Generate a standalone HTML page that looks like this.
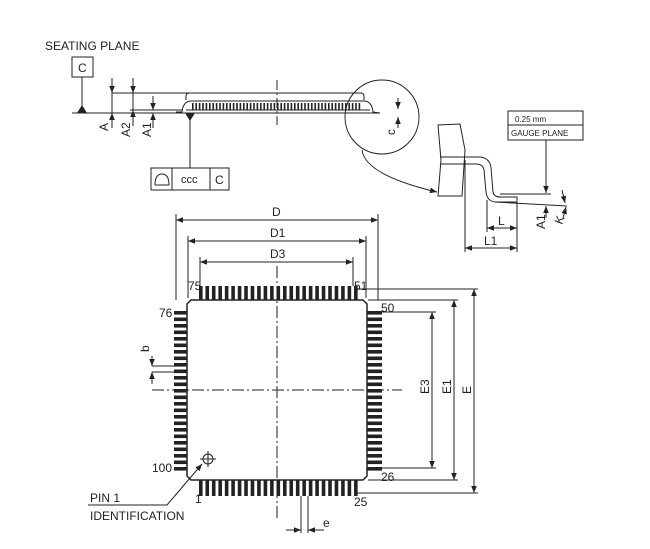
<!DOCTYPE html>
<html><head><meta charset="utf-8"><style>
html,body{margin:0;padding:0;background:#fff}
svg{display:block}
text{font-family:"Liberation Sans",sans-serif;fill:#222}
</style></head><body>
<svg id="s" width="650" height="549" viewBox="0 0 650 549" xmlns="http://www.w3.org/2000/svg">
<defs>
<marker id="a" viewBox="0 0 10 10" refX="10" refY="5" markerWidth="7" markerHeight="7" orient="auto-start-reverse"><path d="M0,1 L10,5 L0,9 z" fill="#222"/></marker>
</defs>
<g stroke="#222" stroke-width="1" fill="none">
<rect x="72" y="57" width="21" height="20"/>
<line x1="82" y1="77" x2="82" y2="107"/>
<line x1="72" y1="113" x2="380" y2="113"/>
<line x1="112" y1="93" x2="362" y2="93"/>
<line x1="130" y1="110" x2="182" y2="110"/>
<line x1="112" y1="78" x2="112" y2="93" marker-end="url(#a)"/>
<line x1="112" y1="128" x2="112" y2="113" marker-end="url(#a)"/>
<line x1="112" y1="93" x2="112" y2="113"/>
<line x1="133" y1="78" x2="133" y2="93" marker-end="url(#a)"/>
<line x1="133" y1="126" x2="133" y2="110" marker-end="url(#a)"/>
<line x1="133" y1="93" x2="133" y2="110"/>
<line x1="153" y1="96" x2="153" y2="110" marker-end="url(#a)"/>
<line x1="153" y1="128" x2="153" y2="113" marker-end="url(#a)"/>
<path d="M186,100 L186,96 Q186,93 190,93 L360,93 Q364,93 364,96 L364,100"/>
<path d="M176,112 L182,112 Q183,102 190,101 L365,101 Q372,102 373,112 L380,113"/>
<line x1="186" y1="110" x2="370" y2="110"/>
<line x1="277" y1="80" x2="277" y2="125" stroke-dasharray="10,3,2,3"/>
<line x1="190" y1="118" x2="190" y2="168"/>
<rect x="151" y="168" width="78" height="22"/>
<line x1="172" y1="168" x2="172" y2="190"/><line x1="210" y1="168" x2="210" y2="190"/>
<path d="M155,185 L169,185 M155,185 Q155,174 162,174 Q169,174 169,185"/>
<circle cx="382" cy="117" r="37"/>
<line x1="398" y1="98" x2="398" y2="109" marker-end="url(#a)"/>
<line x1="398" y1="128" x2="398" y2="117" marker-end="url(#a)"/>
<path d="M362,150 Q365,175 437,192" marker-end="url(#a)"/>
<path d="M438,125 L460,124 L465,150 L462,196 L438,196 L441,160 z"/>
<path d="M440,157 L480,157 Q490,158 491,168 L493,192 Q494,197 500,197 L517,197 L517,202 L495,202 Q487,201 486,192 L484,170 Q483,164 476,164 L440,164"/>
<line x1="465" y1="160" x2="465" y2="252"/>
<line x1="487" y1="200" x2="487" y2="232"/>
<line x1="517" y1="198" x2="517" y2="252"/>
<line x1="487" y1="228" x2="517" y2="228" marker-start="url(#a)" marker-end="url(#a)"/>
<line x1="465" y1="248" x2="517" y2="248" marker-start="url(#a)" marker-end="url(#a)"/>
<rect x="508" y="111" width="75" height="29"/><line x1="508" y1="125" x2="583" y2="125"/>
<line x1="546" y1="140" x2="546" y2="193" marker-end="url(#a)"/>
<line x1="500" y1="194" x2="551" y2="194"/>
<path d="M495,202 Q530,204 567,206"/>
<line x1="546" y1="218" x2="546" y2="206" marker-end="url(#a)"/>
<line x1="562" y1="190" x2="565" y2="203" marker-end="url(#a)"/>
<line x1="563" y1="218" x2="566" y2="207" marker-end="url(#a)"/>
<line x1="176" y1="214" x2="176" y2="300"/><line x1="378" y1="214" x2="378" y2="300"/>
<line x1="176" y1="220" x2="378" y2="220" marker-start="url(#a)" marker-end="url(#a)"/>
<line x1="188" y1="236" x2="188" y2="298"/><line x1="366" y1="236" x2="366" y2="298"/>
<line x1="188" y1="241" x2="366" y2="241" marker-start="url(#a)" marker-end="url(#a)"/>
<line x1="200" y1="257" x2="200" y2="286"/><line x1="353" y1="257" x2="353" y2="286"/>
<line x1="200" y1="262" x2="353" y2="262" marker-start="url(#a)" marker-end="url(#a)"/>
<line x1="357" y1="289" x2="478" y2="289"/><line x1="357" y1="493" x2="478" y2="493"/>
<line x1="474" y1="289" x2="474" y2="493" marker-start="url(#a)" marker-end="url(#a)"/>
<line x1="368" y1="300" x2="458" y2="300"/><line x1="368" y1="480" x2="458" y2="480"/>
<line x1="454" y1="300" x2="454" y2="480" marker-start="url(#a)" marker-end="url(#a)"/>
<line x1="382" y1="312" x2="436" y2="312"/><line x1="382" y1="468" x2="436" y2="468"/>
<line x1="432" y1="312" x2="432" y2="468" marker-start="url(#a)" marker-end="url(#a)"/>
<line x1="277" y1="266" x2="277" y2="520" stroke-dasharray="12,3,2,3"/>
<line x1="152" y1="390" x2="402" y2="390" stroke-dasharray="12,3,2,3"/>
<path d="M191,300 L363,300 L367,304 L367,476 L363,480 L191,480 L187,476 L187,304 z" stroke-width="1.5"/>
<line x1="152" y1="356" x2="152" y2="366" marker-end="url(#a)"/>
<line x1="152" y1="384" x2="152" y2="372" marker-end="url(#a)"/>
<line x1="152" y1="366" x2="176" y2="366"/><line x1="152" y1="372" x2="176" y2="372"/>
<circle cx="208" cy="459" r="5"/>
<line x1="200" y1="459" x2="216" y2="459"/><line x1="208" y1="451" x2="208" y2="467"/>
<path d="M88,505 L167,505 L202,464" marker-end="url(#a)"/>
<line x1="301" y1="496" x2="301" y2="533"/><line x1="308" y1="496" x2="308" y2="533"/>
<line x1="286" y1="530" x2="301" y2="530" marker-end="url(#a)"/>
<line x1="324" y1="530" x2="308" y2="530" marker-end="url(#a)"/>
</g>
<polygon points="82,105 77,113 87,113" fill="#222"/>
<polygon points="185,113 195,113 190,121" fill="#222"/>
<g id="pins" fill="#222"></g>
<g font-size="12">
<text x="45" y="50">SEATING PLANE</text>
<text x="78" y="72">C</text>
<text x="181" y="183" font-size="11">ccc</text>
<text x="215" y="184">C</text>
<text transform="translate(108,131) rotate(-90)">A</text>
<text transform="translate(130,137) rotate(-90)">A2</text>
<text transform="translate(151,137) rotate(-90)">A1</text>
<text transform="translate(395,135) rotate(-90)">c</text>
<text x="515" y="122" font-size="8">0.25 mm</text>
<text x="511" y="136" font-size="8">GAUGE PLANE</text>
<text x="498" y="225">L</text>
<text x="484" y="245">L1</text>
<text transform="translate(545,229) rotate(-90)">A1</text>
<text transform="translate(562,225) rotate(-70)">K</text>
<text x="272" y="216">D</text>
<text x="270" y="237">D1</text>
<text x="270" y="258">D3</text>
<text x="188" y="290">75</text>
<text x="354" y="290">51</text>
<text x="159" y="317">76</text>
<text x="381" y="312">50</text>
<text x="152" y="472">100</text>
<text x="381" y="481">26</text>
<text x="195" y="503">1</text>
<text x="354" y="506">25</text>
<text transform="translate(429,394) rotate(-90)">E3</text>
<text transform="translate(451,394) rotate(-90)">E1</text>
<text transform="translate(471,394) rotate(-90)">E</text>
<text transform="translate(149,352) rotate(-90)">b</text>
<text x="90" y="502">PIN 1</text>
<text x="90" y="520">IDENTIFICATION</text>
<text x="323" y="527">e</text>
</g>
<g id="sideleads" fill="#222"></g>
</svg>
<script>
var ns="http://www.w3.org/2000/svg",g=document.getElementById("pins");
function r(x,y,w,h,p){var e=document.createElementNS(ns,"rect");e.setAttribute("x",x);e.setAttribute("y",y);e.setAttribute("width",w);e.setAttribute("height",h);(p||g).appendChild(e);}
for(var i=0;i<25;i++){var x=199+i*6.46;r(x,286,3.6,14);r(x,480,3.6,16);}
for(var i=0;i<25;i++){var y=311+i*6.5;r(174,y,13,3.6);r(367,y,15,3.6);}
var s=document.getElementById("sideleads");
for(var i=0;i<50;i++){var x=192+i*3.4;r(x,103,1.6,7,s);}
</script>
</body></html>
